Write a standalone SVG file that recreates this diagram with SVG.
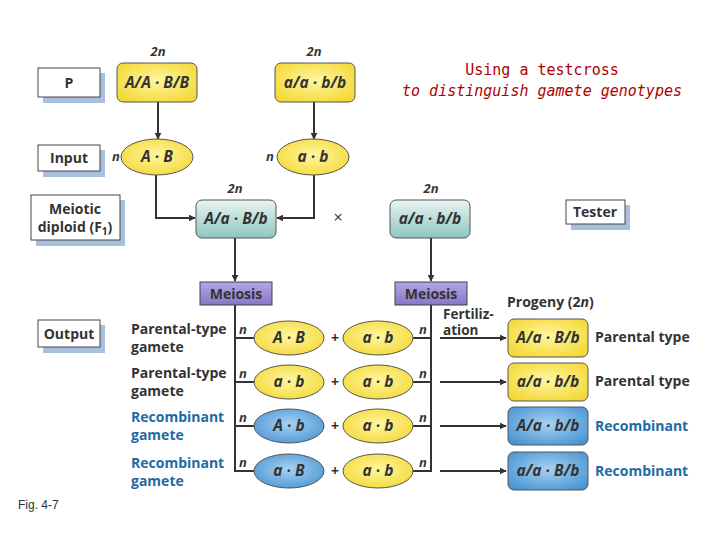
<svg xmlns="http://www.w3.org/2000/svg" width="720" height="540" viewBox="0 0 720 540">
<defs>
<radialGradient id="yg" cx="0.5" cy="0.45" r="0.7"><stop offset="0" stop-color="#fff6a0"/><stop offset="1" stop-color="#f2d52a"/></radialGradient>
<radialGradient id="bg" cx="0.5" cy="0.45" r="0.7"><stop offset="0" stop-color="#a9d2f2"/><stop offset="1" stop-color="#3f8fd0"/></radialGradient>
<linearGradient id="tg" x1="0" y1="0" x2="0" y2="1"><stop offset="0" stop-color="#e8f5f3"/><stop offset="1" stop-color="#8fc5be"/></linearGradient>
<linearGradient id="pg" x1="0" y1="0" x2="0" y2="1"><stop offset="0" stop-color="#b4a6e6"/><stop offset="1" stop-color="#8776c8"/></linearGradient>
<marker id="ah" viewBox="0 0 10 10" refX="9" refY="5" markerWidth="7" markerHeight="7" orient="auto" markerUnits="userSpaceOnUse"><path d="M0,0 L10,5 L0,10 z" fill="#333"/></marker>
</defs>
<style>
text{font-family:"Open Sans","Liberation Sans",sans-serif;font-weight:bold;fill:#333}
.g{font-size:15.5px;font-style:italic;text-anchor:middle}
.lbl{font-size:14px;text-anchor:middle}
.rl{font-size:14px}
.bl{fill:#1e6aa3}
.n{font-size:13px;font-style:italic;text-anchor:middle}
.lb{fill:#fff;stroke:#444;stroke-width:1}
.sh{fill:#a9bfe0}
.y{fill:url(#yg);stroke:#555;stroke-width:1}
.b{fill:url(#bg);stroke:#555;stroke-width:1}
.t{fill:url(#tg);stroke:#555;stroke-width:1}
.p{fill:url(#pg);stroke:#444;stroke-width:1}
.c{fill:none;stroke:#333;stroke-width:2}
</style>
<rect width="720" height="540" fill="#fff"/>
<g id="labels">
<rect class="sh" x="43" y="73" width="62" height="30"/><rect class="lb" x="38" y="68" width="62" height="29"/><text class="lbl" x="69" y="88">P</text>
<rect class="sh" x="43" y="150" width="62" height="27"/><rect class="lb" x="38" y="145" width="62" height="26"/><text class="lbl" x="69" y="163">Input</text>
<rect class="sh" x="36" y="200" width="89" height="46"/><rect class="lb" x="31" y="195" width="89" height="45"/><text class="lbl" x="75" y="214">Meiotic</text><text class="lbl" x="75" y="232">diploid (F<tspan font-size="10" dy="3">1</tspan><tspan dy="-3">)</tspan></text>
<rect class="sh" x="43" y="325" width="62" height="28"/><rect class="lb" x="38" y="320" width="62" height="27"/><text class="lbl" x="69" y="339">Output</text>
<rect class="sh" x="571" y="205" width="59" height="25"/><rect class="lb" x="566" y="200" width="59" height="24"/><text class="lbl" x="595" y="217">Tester</text>
</g>
<g id="connectors">
<line class="c" x1="158" y1="102" x2="158" y2="139" marker-end="url(#ah)"/>
<line class="c" x1="314" y1="102" x2="314" y2="139" marker-end="url(#ah)"/>
<polyline class="c" points="156,175 156,218 195,218" marker-end="url(#ah)"/>
<polyline class="c" points="314,175 314,218 277,218" marker-end="url(#ah)"/>
<line class="c" x1="235" y1="238" x2="235" y2="281" marker-end="url(#ah)"/>
<line class="c" x1="431" y1="238" x2="431" y2="281" marker-end="url(#ah)"/>
<polyline class="c" points="235,305 235,471 255,471"/>
<line class="c" x1="235" y1="338" x2="255" y2="338"/><line class="c" x1="235" y1="382" x2="255" y2="382"/><line class="c" x1="235" y1="426" x2="255" y2="426"/>
<polyline class="c" points="431,305 431,471 412,471"/>
<line class="c" x1="431" y1="338" x2="412" y2="338"/><line class="c" x1="431" y1="382" x2="412" y2="382"/><line class="c" x1="431" y1="426" x2="412" y2="426"/>
<line class="c" stroke-width="1.5" x1="440" y1="338" x2="506" y2="338" marker-end="url(#ah)"/>
<line class="c" stroke-width="1.5" x1="440" y1="382" x2="506" y2="382" marker-end="url(#ah)"/>
<line class="c" stroke-width="1.5" x1="440" y1="426" x2="506" y2="426" marker-end="url(#ah)"/>
<line class="c" stroke-width="1.5" x1="440" y1="471" x2="506" y2="471" marker-end="url(#ah)"/>
</g>
<g id="p1"><text class="n" x="158" y="56">2n</text><rect class="y" x="117" y="63" width="80" height="39" rx="6"/><text class="g" x="157" y="88">A/A · B/B</text></g>
<g id="p2"><text class="n" x="314" y="56">2n</text><rect class="y" x="275" y="63" width="80" height="39" rx="6"/><text class="g" x="315" y="88">a/a · b/b</text></g>
<g id="in1"><text class="n" x="116" y="161">n</text><ellipse class="y" cx="157" cy="157" rx="36" ry="18"/><text class="g" x="157" y="162">A · B</text></g>
<g id="in2"><text class="n" x="270" y="161">n</text><ellipse class="y" cx="313" cy="157" rx="36" ry="18"/><text class="g" x="313" y="162">a · b</text></g>
<g id="f1"><text class="n" x="235" y="193">2n</text><rect class="t" x="196" y="200" width="80" height="38" rx="6"/><text class="g" x="236" y="224">A/a · B/b</text></g>
<text x="338" y="223" style="font-size:16px;font-weight:normal;text-anchor:middle">×</text>
<g id="tester"><text class="n" x="431" y="193">2n</text><rect class="t" x="390" y="200" width="80" height="38" rx="6"/><text class="g" x="430" y="224">a/a · b/b</text></g>
<g id="m1"><rect class="p" x="200" y="282" width="72" height="23"/><text class="lbl" x="236" y="299">Meiosis</text></g>
<g id="m2"><rect class="p" x="395" y="282" width="72" height="23"/><text class="lbl" x="431" y="299">Meiosis</text></g>
<g id="rows">
<text class="rl" x="131" y="334">Parental-type</text><text class="rl" x="131" y="352">gamete</text>
<text class="rl" x="131" y="378">Parental-type</text><text class="rl" x="131" y="396">gamete</text>
<text class="rl bl" x="131" y="422">Recombinant</text><text class="rl bl" x="131" y="440">gamete</text>
<text class="rl bl" x="131" y="468">Recombinant</text><text class="rl bl" x="131" y="486">gamete</text>
<text class="n" x="243" y="334">n</text><text class="n" x="243" y="378">n</text><text class="n" x="243" y="422">n</text><text class="n" x="243" y="467">n</text>
<text class="n" x="423" y="334">n</text><text class="n" x="423" y="378">n</text><text class="n" x="423" y="422">n</text><text class="n" x="423" y="467">n</text>
<ellipse class="y" cx="289" cy="338" rx="35" ry="17"/><text class="g" x="289" y="343">A · B</text>
<ellipse class="y" cx="289" cy="382" rx="35" ry="17"/><text class="g" x="289" y="387">a · b</text>
<ellipse class="b" cx="289" cy="426" rx="35" ry="17"/><text class="g" x="289" y="431">A · b</text>
<ellipse class="b" cx="289" cy="471" rx="35" ry="17"/><text class="g" x="289" y="476">a · B</text>
<text class="lbl" x="335" y="343">+</text><text class="lbl" x="335" y="387">+</text><text class="lbl" x="335" y="431">+</text><text class="lbl" x="335" y="476">+</text>
<ellipse class="y" cx="378" cy="338" rx="35" ry="17"/><text class="g" x="378" y="343">a · b</text>
<ellipse class="y" cx="378" cy="382" rx="35" ry="17"/><text class="g" x="378" y="387">a · b</text>
<ellipse class="y" cx="378" cy="426" rx="35" ry="17"/><text class="g" x="378" y="431">a · b</text>
<ellipse class="y" cx="378" cy="471" rx="35" ry="17"/><text class="g" x="378" y="476">a · b</text>
<text x="443" y="319" style="font-size:13.5px">Fertiliz-</text><text x="443" y="335" style="font-size:13.5px">ation</text>
<text class="rl" x="507" y="307">Progeny (2<tspan font-style="italic">n</tspan>)</text>
<rect class="y" x="508" y="319" width="80" height="38" rx="6"/><text class="g" x="548" y="343">A/a · B/b</text>
<rect class="y" x="508" y="363" width="80" height="38" rx="6"/><text class="g" x="548" y="387">a/a · b/b</text>
<rect class="b" x="508" y="407" width="80" height="38" rx="6"/><text class="g" x="548" y="431">A/a · b/b</text>
<rect class="b" x="508" y="452" width="80" height="38" rx="6"/><text class="g" x="548" y="476">a/a · B/b</text>
<text class="rl" x="595" y="342">Parental type</text>
<text class="rl" x="595" y="386">Parental type</text>
<text class="rl bl" x="595" y="431">Recombinant</text>
<text class="rl bl" x="595" y="476">Recombinant</text>
</g>
<text x="542" y="75" style="font-family:'DejaVu Sans Mono','Liberation Mono',monospace;font-weight:normal;font-size:15px;fill:#b00000;text-anchor:middle">Using a testcross</text>
<text x="542" y="96" style="font-family:'DejaVu Sans Mono','Liberation Mono',monospace;font-weight:normal;font-style:italic;font-size:15px;fill:#b00000;text-anchor:middle">to distinguish gamete genotypes</text>
<text x="18" y="509" style="font-family:'Liberation Sans',sans-serif;font-weight:normal;font-size:12px;fill:#333">Fig. 4-7</text>
</svg>
